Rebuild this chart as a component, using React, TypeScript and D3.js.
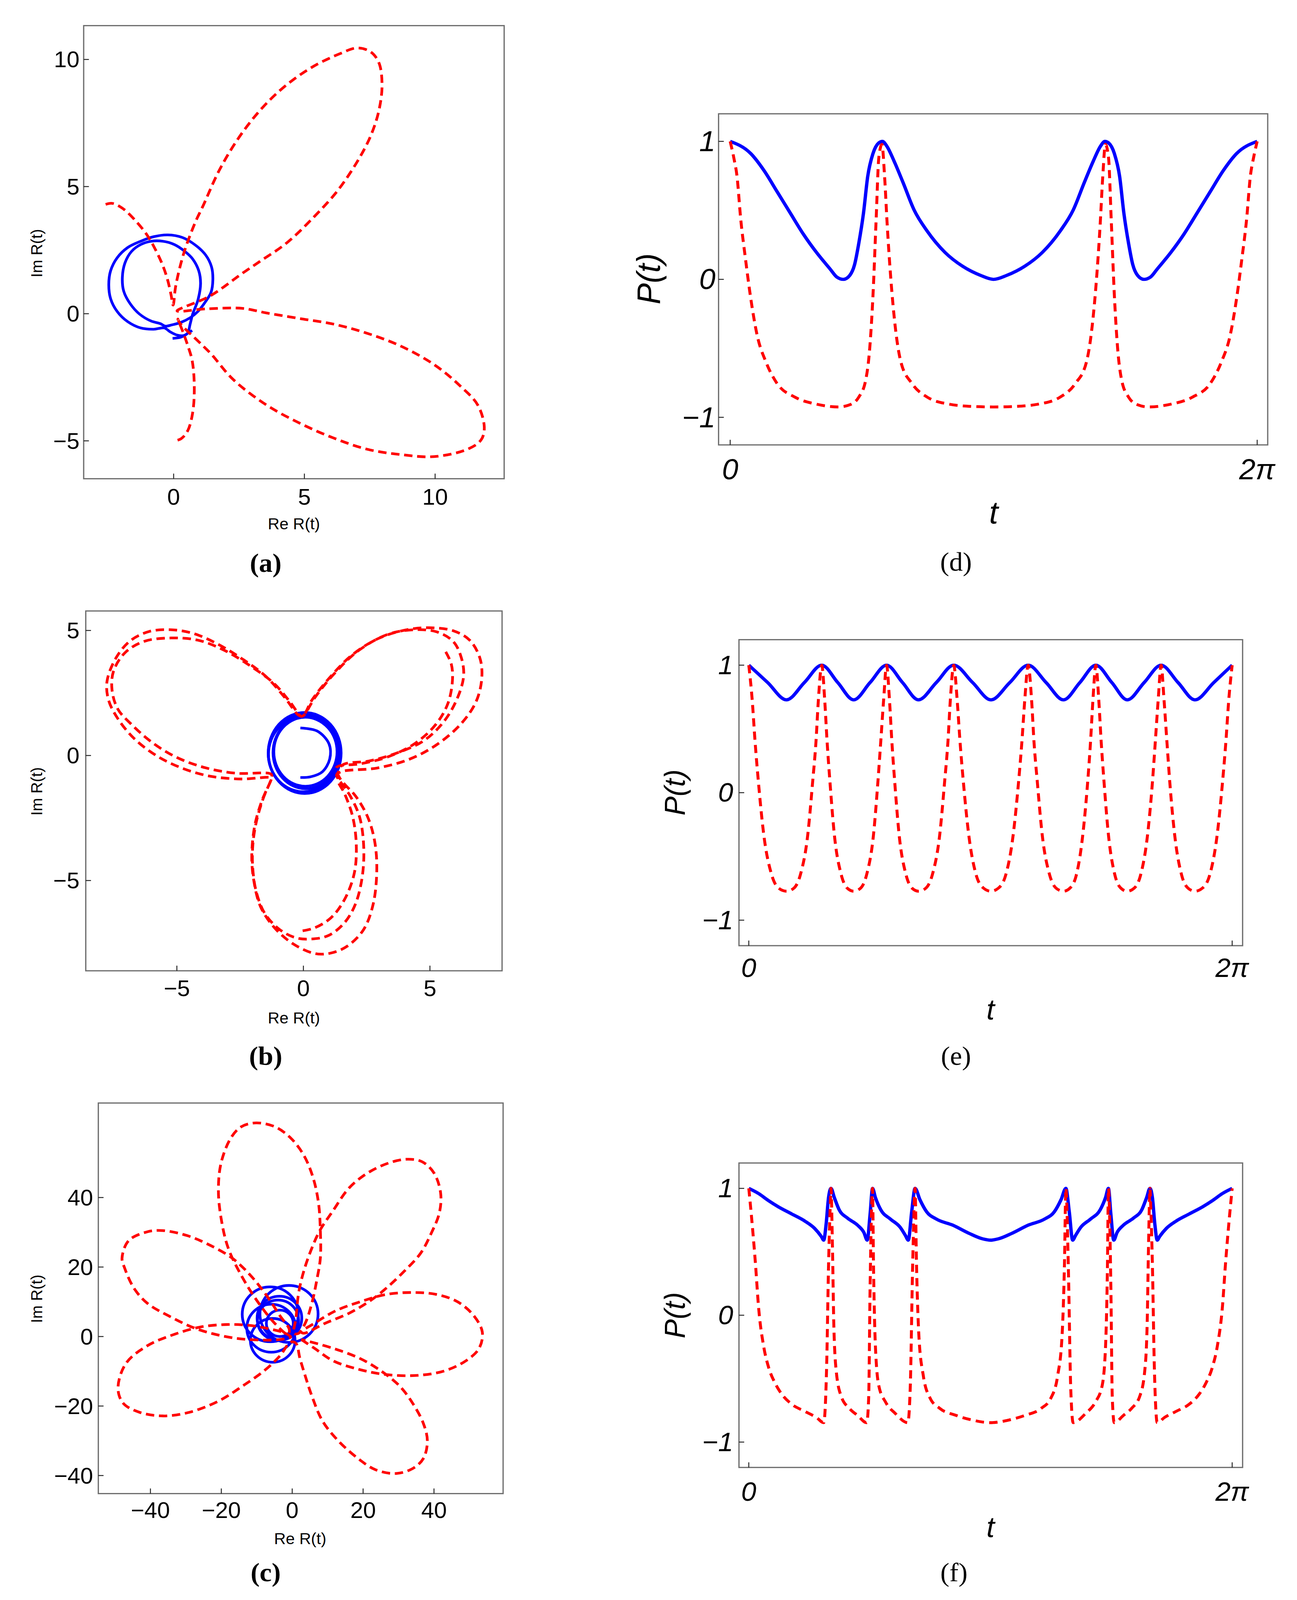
import * as d3 from "d3";
import React from "react";

type Pt = [number, number];
type Box = { l: number; t: number; r: number; b: number };

// ---------- (a) Re/Im R(t) ----------
// red: tail -> upper lobe -> lower lobe -> bottom branch
const aRed: Pt[] = [
  [-2.6, 4.3], [-2.35, 4.34], [-1.96, 4.15], [-1.45, 3.65], [-1.0, 3.07], [-0.68, 2.49],
  [-0.42, 1.91], [-0.23, 1.33], [-0.1, 0.75], [-0.02, 0.34],
  [0.08, 1.09], [0.38, 2.35], [0.83, 3.6], [1.12, 4.23], [1.76, 5.67], [2.53, 6.98],
  [3.42, 8.13], [4.32, 9.0], [5.35, 9.73], [6.37, 10.23], [7.01, 10.45], [7.53, 10.3],
  [7.85, 9.87], [7.97, 9.0], [7.85, 7.99], [7.53, 6.98], [7.01, 5.96], [6.24, 4.8],
  [5.35, 3.79], [4.32, 2.78], [3.29, 2.05], [2.63, 1.59], [1.38, 0.69], [0.13, 0.11],
  [1.23, 0.19], [2.63, 0.21], [3.55, 0.03], [4.83, -0.19], [6.12, -0.41], [7.4, -0.77],
  [8.68, -1.27], [9.96, -2.0], [10.99, -2.87], [11.63, -3.59], [11.88, -4.46], [11.76, -4.96],
  [11.24, -5.33], [9.96, -5.62], [8.68, -5.54], [7.4, -5.33], [6.12, -4.89], [4.83, -4.31],
  [3.55, -3.59], [2.27, -2.58], [1.45, -1.6], [1.08, -1.22], [0.23, -0.36], [0.16, -0.21],
  [0.35, -0.7], [0.53, -1.22], [0.71, -1.85], [0.79, -2.87], [0.73, -3.88], [0.54, -4.6],
  [0.28, -4.92], [0.0, -5.01],
];
const aBlue: Pt[] = [
  [-0.04, -0.97], [0.28, -0.92], [0.53, -0.77], [0.63, -0.41], [0.73, -0.01], [0.93, 0.54],
  [1.03, 1.19], [0.96, 1.69], [0.73, 2.15], [0.43, 2.45], [0.03, 2.72], [-0.41, 2.85],
  [-0.86, 2.85], [-1.26, 2.72], [-1.61, 2.45], [-1.86, 2.0], [-1.96, 1.44], [-1.91, 0.89],
  [-1.66, 0.39], [-1.31, -0.01], [-0.86, -0.29], [-0.51, -0.39], [-0.32, -0.49],
  [-0.07, -0.44], [0.28, -0.34], [0.63, -0.16], [0.93, 0.09], [1.23, 0.49], [1.43, 0.84],
  [1.5, 1.34], [1.45, 1.84], [1.23, 2.3], [0.83, 2.7], [0.33, 3.0], [-0.22, 3.1],
  [-0.76, 3.03], [-1.26, 2.85], [-1.76, 2.6], [-2.16, 2.2], [-2.41, 1.69], [-2.48, 1.14],
  [-2.41, 0.59], [-2.16, 0.09], [-1.76, -0.31], [-1.26, -0.56], [-0.76, -0.61], [-0.36, -0.56],
  [-0.12, -0.72], [0.13, -0.84], [0.38, -0.86], [0.58, -0.74], [0.71, -0.66],
];

// ---------- (b) ----------
const bBottomStart: Pt[] = [
  [-0.03, -7.01], [0.45, -6.89], [1.09, -6.49], [1.63, -5.75], [2.01, -4.71], [2.09, -3.59],
  [1.95, -2.46], [1.63, -1.53], [1.36, -0.97],
];
const bRightMiddle: Pt[] = [
  [1.52, -0.4], [2.6, -0.22], [3.67, 0.09], [4.74, 0.58], [5.49, 1.28], [6.03, 2.17],
  [6.33, 3.16], [6.24, 3.91], [5.92, 4.56], [5.28, 4.94], [4.42, 5.03], [3.35, 4.85],
  [2.17, 4.19], [1.2, 3.25], [0.45, 2.31], [0.02, 1.61],
];
const bLeftInner: Pt[] = [
  [-0.09, 1.57], [-0.52, 2.13], [-1.16, 2.88], [-2.02, 3.53], [-3.09, 4.19], [-4.16, 4.61],
  [-5.24, 4.7], [-6.31, 4.56], [-7.06, 4.1], [-7.51, 3.35], [-7.56, 2.6], [-7.33, 1.85],
  [-6.79, 1.24], [-5.99, 0.53], [-5.02, -0.07], [-3.84, -0.5], [-2.66, -0.71], [-1.27, -0.75],
];
const bBottomMiddle: Pt[] = [
  [-1.27, -0.92], [-1.59, -1.72], [-1.86, -2.65], [-2.0, -3.59], [-2.0, -4.53], [-1.86, -5.46],
  [-1.53, -6.31], [-0.94, -6.96], [-0.3, -7.29], [0.29, -7.34], [0.99, -7.2], [1.63, -6.68],
  [2.06, -5.93], [2.33, -4.81], [2.38, -3.59], [2.22, -2.46], [1.85, -1.62], [1.47, -1.06],
  [1.31, -0.78],
];
const bRightOuter: Pt[] = [
  [1.52, -0.64], [2.92, -0.5], [4.21, -0.14], [5.28, 0.44], [6.24, 1.28], [6.83, 2.17],
  [7.05, 3.11], [6.97, 3.91], [6.57, 4.61], [5.92, 4.99], [4.96, 5.11], [3.99, 5.01],
  [2.92, 4.66], [1.9, 4.0], [0.99, 3.06], [0.34, 2.22], [-0.03, 1.57],
];
const bLeftOuter: Pt[] = [
  [-0.19, 1.61], [-0.73, 2.31], [-1.48, 3.16], [-2.34, 3.81], [-3.41, 4.47], [-4.38, 4.89],
  [-5.24, 5.03], [-6.09, 4.96], [-6.85, 4.58], [-7.4, 3.91], [-7.76, 2.97], [-7.7, 2.22],
  [-7.33, 1.47], [-6.68, 0.67], [-5.77, -0.03], [-4.81, -0.5], [-3.73, -0.82], [-2.45, -0.94],
  [-1.27, -0.89],
];
const bBottomOuter: Pt[] = [
  [-1.27, -0.95], [-1.64, -1.81], [-1.93, -2.84], [-2.04, -4.06], [-1.96, -5.0], [-1.7, -6.03],
  [-1.16, -6.87], [-0.41, -7.53], [0.45, -7.92], [1.09, -7.9], [1.74, -7.62], [2.38, -6.96],
  [2.76, -5.93], [2.9, -4.53], [2.81, -3.4], [2.54, -2.46], [2.06, -1.62], [1.63, -1.15],
  [1.42, -0.87],
];
const bRightInner: Pt[] = [
  [1.31, -0.48], [2.27, -0.33], [3.35, -0.05], [4.42, 0.49], [5.23, 1.24], [5.71, 2.08],
  [5.89, 3.02], [5.84, 3.67], [5.55, 4.28],
];
const bBlueArc: Pt[] = [
  [-0.12, 1.1], [0.54, 0.98], [1.01, 0.47], [1.04, -0.14], [0.75, -0.65], [0.29, -0.85],
  [-0.12, -0.88],
];
// blue loops: centre x, centre y, radius x, radius y
const bBlueRings: [number, number, number, number][] = [
  [0.05, 0.1, 1.44, 1.62],
  [0.1, 0.12, 1.3, 1.45],
  [0.0, 0.05, 1.38, 1.5],
  [0.08, 0.15, 1.25, 1.38],
  [0.03, 0.08, 1.42, 1.55],
];

// ---------- (c) ----------
const cRight: Pt[] = [
  [2.55, -0.86], [6.29, -3.39], [11.54, -6.99], [19.03, -9.51], [26.52, -10.95], [35.51, -11.17],
  [43.0, -9.87], [48.99, -6.99], [52.73, -3.39], [53.63, 1.3], [51.24, 5.98], [46.74, 9.95],
  [40.75, 12.11], [34.01, 12.68], [26.52, 12.11], [19.03, 9.95], [12.28, 7.42], [6.29, 3.82],
  [2.55, 1.3],
];
const cUpperRight: Pt[] = [
  [3.3, 0.94], [9.29, 3.82], [16.03, 6.7], [22.02, 10.31], [26.52, 13.91], [31.76, 18.95],
  [36.25, 24.0], [39.25, 29.77], [41.5, 35.53], [41.87, 41.3], [40.0, 47.06], [36.63, 50.31],
  [32.51, 51.03], [27.27, 49.95], [21.27, 47.06], [16.03, 42.74], [11.54, 36.25], [7.79, 30.49],
  [5.54, 25.44], [3.3, 18.95], [1.8, 12.46], [1.05, 5.26], [0.5, 0.9],
];
const cTop: Pt[] = [
  [1.8, 0.94], [3.67, 3.82], [5.54, 9.59], [7.04, 16.79], [7.94, 22.56], [7.94, 30.49],
  [7.42, 38.41], [5.92, 45.62], [3.3, 52.11], [-0.45, 57.15], [-4.94, 60.4], [-10.19, 61.48],
  [-14.31, 60.4], [-17.3, 57.15], [-20.07, 49.95], [-20.82, 42.02], [-20.07, 34.09],
  [-18.05, 25.44], [-13.93, 16.79], [-9.44, 9.59], [-4.94, 3.82], [-1.2, 0.58],
];
const cUpperLeft: Pt[] = [
  [-0.82, 2.02], [-3.45, 5.98], [-7.19, 11.75], [-11.69, 17.51], [-16.93, 22.56], [-23.67, 26.52],
  [-29.66, 29.05], [-36.4, 30.49], [-40.9, 30.13], [-46.14, 27.6], [-48.01, 22.56], [-47.27, 19.68],
  [-44.64, 13.91], [-40.9, 9.59], [-34.91, 5.98], [-27.42, 2.38], [-19.93, 0.22], [-12.43, -0.86],
  [-3.45, -0.86], [-0.45, -0.14],
];
const cLowerLeft: Pt[] = [
  [-1.95, 0.94], [-7.19, 2.38], [-12.43, 3.24], [-18.43, 3.46], [-25.92, 2.74], [-33.41, 0.58],
  [-40.9, -2.67], [-46.89, -7.71], [-49.14, -14.92], [-47.64, -19.24], [-43.15, -21.77],
  [-36.4, -22.85], [-28.91, -21.77], [-20.67, -18.52], [-13.93, -14.2], [-7.94, -9.87],
  [-3.45, -5.55], [-0.45, -1.59],
];
const cLowerRight: Pt[] = [
  [1.05, -1.95], [2.17, -6.27], [3.67, -11.32], [5.54, -17.08], [8.54, -24.29], [13.03, -30.05],
  [19.03, -35.46], [23.52, -38.34], [29.14, -39.42], [34.01, -37.98], [37.0, -35.1], [38.13, -30.05],
  [37.0, -25.01], [34.01, -19.24], [30.26, -14.2], [25.02, -9.87], [19.03, -6.27], [11.54, -3.39],
  [4.04, -1.23], [2.55, -0.86],
];
// blue loops: centre x, centre y, radius
const cBlueLoops: [number, number, number][] = [
  [-5.5, -1.1, 6.3],
  [-6.2, 6.4, 7.9],
  [-0.9, 6.5, 8.2],
  [-3.6, 5.3, 6.3],
  [-3.5, 3.8, 3.8],
  [-5.9, 2.4, 6.9],
  [-4.0, 4.7, 5.8],
];

// ---------- (d)-(f) P(t), t given in units of 2π ----------
const dBlue: Pt[] = [
  [0, 1], [0.039, 0.912], [0.064, 0.79], [0.089, 0.636], [0.114, 0.481], [0.139, 0.327],
  [0.164, 0.194], [0.19, 0.073], [0.202, 0.018], [0.215, 0], [0.227, 0.029], [0.236, 0.106],
  [0.244, 0.26], [0.253, 0.481], [0.261, 0.746], [0.271, 0.912], [0.282, 0.989], [0.289, 1],
  [0.297, 0.967], [0.311, 0.857], [0.328, 0.702], [0.349, 0.503], [0.374, 0.349], [0.408, 0.194],
  [0.441, 0.095], [0.475, 0.029], [0.5, 0], [0.525, 0.029], [0.559, 0.095], [0.592, 0.194],
  [0.626, 0.349], [0.651, 0.503], [0.672, 0.702], [0.689, 0.857], [0.703, 0.967], [0.711, 1],
  [0.718, 0.989], [0.729, 0.912], [0.739, 0.746], [0.747, 0.481], [0.756, 0.26], [0.764, 0.106],
  [0.773, 0.029], [0.785, 0], [0.798, 0.018], [0.81, 0.073], [0.836, 0.194], [0.861, 0.327],
  [0.886, 0.481], [0.911, 0.636], [0.936, 0.79], [0.961, 0.912], [1, 1],
];
const dRed: Pt[] = [
  [0, 1], [0.007, 0.879], [0.013, 0.746], [0.02, 0.437], [0.029, 0.15], [0.039, -0.137],
  [0.051, -0.402], [0.068, -0.6], [0.089, -0.755], [0.123, -0.854], [0.164, -0.905], [0.206, -0.925],
  [0.227, -0.909], [0.244, -0.854], [0.257, -0.733], [0.265, -0.49], [0.271, -0.115], [0.277, 0.437],
  [0.282, 0.879], [0.288, 0.978], [0.293, 0.746], [0.298, 0.393], [0.305, -0.004], [0.313, -0.336],
  [0.324, -0.6], [0.345, -0.755], [0.374, -0.854], [0.416, -0.905], [0.458, -0.921], [0.5, -0.925],
  [0.542, -0.921], [0.584, -0.905], [0.626, -0.854], [0.655, -0.755], [0.676, -0.6], [0.687, -0.336],
  [0.695, -0.004], [0.702, 0.393], [0.707, 0.746], [0.712, 0.978], [0.718, 0.879], [0.723, 0.437],
  [0.729, -0.115], [0.735, -0.49], [0.743, -0.733], [0.756, -0.854], [0.773, -0.909], [0.794, -0.925],
  [0.836, -0.905], [0.877, -0.854], [0.911, -0.755], [0.932, -0.6], [0.949, -0.402], [0.961, -0.137],
  [0.971, 0.15], [0.98, 0.437], [0.987, 0.746], [0.993, 0.879], [1, 1],
];
const eBlue: Pt[] = [
  [0, 1], [0.039, 0.864], [0.078, 0.728], [0.115, 0.864], [0.151, 1], [0.184, 0.864],
  [0.217, 0.728], [0.251, 0.864], [0.285, 1], [0.318, 0.864], [0.351, 0.728], [0.388, 0.864],
  [0.424, 1], [0.463, 0.864], [0.501, 0.728], [0.54, 0.864], [0.578, 1], [0.615, 0.864],
  [0.651, 0.728], [0.685, 0.864], [0.718, 1], [0.751, 0.864], [0.783, 0.728], [0.818, 0.864],
  [0.853, 1], [0.888, 0.864], [0.923, 0.728], [0.962, 0.864], [1, 1],
];
const eRed: Pt[] = [
  [0, 1], [0.007, 0.73], [0.013, 0.4], [0.02, 0.08], [0.031, -0.33], [0.047, -0.64], [0.062, -0.75], [0.078, -0.773],
  [0.093, -0.75], [0.107, -0.64], [0.122, -0.33], [0.132, 0.08], [0.139, 0.4], [0.144, 0.73], [0.151, 1],
  [0.157, 0.73], [0.162, 0.4], [0.168, 0.08], [0.177, -0.33], [0.191, -0.64], [0.204, -0.75], [0.217, -0.773],
  [0.231, -0.75], [0.244, -0.64], [0.258, -0.33], [0.267, 0.08], [0.273, 0.4], [0.279, 0.73], [0.285, 1],
  [0.291, 0.73], [0.296, 0.4], [0.302, 0.08], [0.311, -0.33], [0.325, -0.64], [0.338, -0.75], [0.351, -0.773],
  [0.366, -0.75], [0.38, -0.64], [0.395, -0.33], [0.405, 0.08], [0.412, 0.4], [0.417, 0.73], [0.424, 1],
  [0.431, 0.73], [0.437, 0.4], [0.444, 0.08], [0.455, -0.33], [0.47, -0.64], [0.486, -0.75], [0.501, -0.773],
  [0.516, -0.75], [0.532, -0.64], [0.547, -0.33], [0.558, 0.08], [0.565, 0.4], [0.571, 0.73], [0.578, 1],
  [0.585, 0.73], [0.59, 0.4], [0.597, 0.08], [0.607, -0.33], [0.622, -0.64], [0.636, -0.75], [0.651, -0.773],
  [0.664, -0.75], [0.678, -0.64], [0.691, -0.33], [0.701, 0.08], [0.707, 0.4], [0.712, 0.73], [0.718, 1],
  [0.724, 0.73], [0.729, 0.4], [0.735, 0.08], [0.744, -0.33], [0.757, -0.64], [0.77, -0.75], [0.783, -0.773],
  [0.797, -0.75], [0.811, -0.64], [0.825, -0.33], [0.835, 0.08], [0.841, 0.4], [0.847, 0.73], [0.853, 1],
  [0.859, 0.73], [0.865, 0.4], [0.871, 0.08], [0.881, -0.33], [0.895, -0.64], [0.909, -0.75], [0.923, -0.773],
  [0.938, -0.75], [0.954, -0.64], [0.969, -0.33], [0.98, 0.08], [0.987, 0.4], [0.993, 0.73], [1, 1],
];
const fBlue: Pt[] = [
  [0, 1], [0.02, 0.96], [0.041, 0.903], [0.061, 0.855], [0.089, 0.798], [0.116, 0.742],
  [0.136, 0.685], [0.15, 0.621], [0.155, 0.592], [0.16, 0.718], [0.165, 0.927], [0.17, 1],
  [0.177, 0.927], [0.187, 0.831], [0.204, 0.766], [0.225, 0.71], [0.238, 0.653], [0.245, 0.592],
  [0.251, 0.798], [0.256, 1], [0.262, 0.927], [0.273, 0.831], [0.293, 0.758], [0.313, 0.694],
  [0.324, 0.629], [0.33, 0.592], [0.337, 0.815], [0.344, 1], [0.354, 0.911], [0.368, 0.815],
  [0.388, 0.758], [0.422, 0.71], [0.456, 0.645], [0.484, 0.602], [0.5, 0.592],
  [0.516, 0.602], [0.544, 0.645], [0.578, 0.71], [0.612, 0.758], [0.632, 0.815], [0.646, 0.911],
  [0.656, 1], [0.663, 0.815], [0.67, 0.592], [0.676, 0.629], [0.687, 0.694], [0.707, 0.758],
  [0.727, 0.831], [0.738, 0.927], [0.744, 1], [0.749, 0.798], [0.755, 0.592], [0.762, 0.653],
  [0.775, 0.71], [0.796, 0.766], [0.813, 0.831], [0.823, 0.927], [0.83, 1], [0.835, 0.927],
  [0.84, 0.718], [0.845, 0.592], [0.85, 0.621], [0.864, 0.685], [0.884, 0.742], [0.911, 0.798],
  [0.939, 0.855], [0.959, 0.903], [0.98, 0.96], [1, 1],
];
const fRed: Pt[] = [
  [0, 1], [0.007, 0.718], [0.014, 0.395], [0.02, 0.073], [0.031, -0.25], [0.041, -0.411],
  [0.055, -0.54], [0.068, -0.621], [0.089, -0.702], [0.116, -0.758], [0.14, -0.806], [0.155, -0.847],
  [0.161, -0.411], [0.165, 0.395], [0.169, 0.911], [0.17, 1], [0.173, 0.556], [0.176, -0.089],
  [0.181, -0.444], [0.191, -0.637], [0.208, -0.734], [0.225, -0.79], [0.244, -0.847], [0.248, -0.653],
  [0.251, 0.234], [0.256, 1], [0.258, 0.395], [0.262, -0.25], [0.269, -0.556], [0.283, -0.685],
  [0.303, -0.774], [0.329, -0.847], [0.334, -0.573], [0.339, 0.395], [0.344, 1], [0.347, 0.395],
  [0.352, -0.169], [0.361, -0.476], [0.375, -0.653], [0.395, -0.734], [0.429, -0.79], [0.463, -0.827],
  [0.5, -0.847],
  [0.537, -0.827], [0.571, -0.79], [0.605, -0.734], [0.625, -0.653], [0.639, -0.476], [0.648, -0.169],
  [0.653, 0.395], [0.656, 1], [0.661, 0.395], [0.666, -0.573], [0.671, -0.847], [0.697, -0.774],
  [0.717, -0.685], [0.731, -0.556], [0.738, -0.25], [0.742, 0.395], [0.744, 1], [0.749, 0.234],
  [0.752, -0.653], [0.756, -0.847], [0.775, -0.79], [0.792, -0.734], [0.809, -0.637], [0.819, -0.444],
  [0.824, -0.089], [0.827, 0.556], [0.83, 1], [0.831, 0.911], [0.835, 0.395], [0.839, -0.411],
  [0.845, -0.847], [0.86, -0.806], [0.884, -0.758], [0.911, -0.702], [0.932, -0.621], [0.945, -0.54],
  [0.959, -0.411], [0.969, -0.25], [0.98, 0.073], [0.986, 0.395], [0.993, 0.718], [1, 1],
];

const pYTicks = [-1, 0, 1];
const pXTicks = [0, 1];
const pXTickLabels = ["0", "2\u03c0"];

const RED = "#ff0000";
const BLUE = "#0000ff";
const FRAME = "#6e6e6e";
const SANS = "'Liberation Sans', Arial, sans-serif";
const SERIF = "'Liberation Serif', 'Times New Roman', serif";
const TICK = 5;

const fmt = (v: number) => (v < 0 ? "\u2212" + Math.abs(v) : String(v));

type OrbitProps = {
  id: string;
  box: Box;
  xDomain: [number, number];
  yDomain: [number, number];
  xTicks: number[];
  yTicks: number[];
  red: Pt[];
  blue: Pt[][];
  rings: [number, number, number, number][];
  xLabelY: number;
  yLabelX: number;
  xTitle: [number, number];
  yTitle: [number, number];
  caption: string;
  capPos: [number, number];
};

function OrbitPanel(p: OrbitProps) {
  const x = d3.scaleLinear().domain(p.xDomain).range([p.box.l, p.box.r]);
  const y = d3.scaleLinear().domain(p.yDomain).range([p.box.b, p.box.t]);
  const line = d3
    .line<Pt>()
    .x((d) => x(d[0]))
    .y((d) => y(d[1]))
    .curve(d3.curveCatmullRom.alpha(0.5));
  const w = p.box.r - p.box.l;
  const h = p.box.b - p.box.t;
  return (
    <g>
      <defs>
        <clipPath id={p.id}>
          <rect x={p.box.l} y={p.box.t} width={w} height={h} />
        </clipPath>
      </defs>
      <g clipPath={`url(#${p.id})`}>
        {p.rings.map(([cx, cy, rx, ry], i) => (
          <ellipse
            key={"r" + i}
            cx={x(cx)}
            cy={y(cy)}
            rx={x(cx + rx) - x(cx)}
            ry={y(cy) - y(cy + ry)}
            fill="none"
            stroke={BLUE}
            strokeWidth={2.6}
          />
        ))}
        {p.blue.map((s, i) => (
          <path key={"b" + i} d={line(s) || ""} fill="none" stroke={BLUE} strokeWidth={2.6} strokeLinejoin="round" />
        ))}
        <path d={line(p.red) || ""} fill="none" stroke={RED} strokeWidth={2.6} strokeDasharray="8 4.5" />
      </g>
      <rect x={p.box.l} y={p.box.t} width={w} height={h} fill="none" stroke={FRAME} strokeWidth={1.2} />
      {p.xTicks.map((v) => (
        <g key={"x" + v}>
          <line x1={x(v)} x2={x(v)} y1={p.box.b} y2={p.box.b - TICK} stroke="#222" strokeWidth={0.9} />
          <text x={x(v)} y={p.xLabelY} textAnchor="middle" dominantBaseline="central" fontFamily={SANS} fontSize={22}>
            {fmt(v)}
          </text>
        </g>
      ))}
      {p.yTicks.map((v) => (
        <g key={"y" + v}>
          <line x1={p.box.l} x2={p.box.l + TICK} y1={y(v)} y2={y(v)} stroke="#222" strokeWidth={0.9} />
          <text x={p.yLabelX} y={y(v)} textAnchor="end" dominantBaseline="central" fontFamily={SANS} fontSize={22}>
            {fmt(v)}
          </text>
        </g>
      ))}
      <text x={p.xTitle[0]} y={p.xTitle[1]} textAnchor="middle" dominantBaseline="central" fontFamily={SANS} fontSize={15.5}>
        Re R(t)
      </text>
      <text
        transform={`translate(${p.yTitle[0]},${p.yTitle[1]}) rotate(-90)`}
        textAnchor="middle"
        dominantBaseline="central"
        fontFamily={SANS}
        fontSize={15.5}
      >
        Im R(t)
      </text>
      <text x={p.capPos[0]} y={p.capPos[1]} textAnchor="middle" dominantBaseline="central" fontFamily={SERIF} fontWeight="bold" fontSize={26}>
        {p.caption}
      </text>
    </g>
  );
}

type PProps = {
  box: Box;
  xDomain: [number, number];
  blue: Pt[];
  red: Pt[];
  tickSize: number;
  titleSize: number;
  xLabelY: number;
  yLabelX: number;
  tPos: [number, number];
  pPos: [number, number];
  caption: string;
  capPos: [number, number];
};

function PPanel(p: PProps) {
  const x = d3.scaleLinear().domain(p.xDomain).range([p.box.l, p.box.r]);
  const y = d3.scaleLinear().domain([-1.2, 1.2]).range([p.box.b, p.box.t]);
  const line = d3
    .line<Pt>()
    .x((d) => x(d[0]))
    .y((d) => y(d[1]))
    .curve(d3.curveMonotoneX);
  const w = p.box.r - p.box.l;
  const h = p.box.b - p.box.t;
  return (
    <g>
      <path d={line(p.blue) || ""} fill="none" stroke={BLUE} strokeWidth={3.2} strokeLinejoin="round" />
      <path d={line(p.red) || ""} fill="none" stroke={RED} strokeWidth={2.8} strokeDasharray="8 5" />
      <rect x={p.box.l} y={p.box.t} width={w} height={h} fill="none" stroke={FRAME} strokeWidth={1.2} />
      {pXTicks.map((v, i) => (
        <g key={"x" + v}>
          <line x1={x(v)} x2={x(v)} y1={p.box.b} y2={p.box.b - TICK} stroke="#222" strokeWidth={0.9} />
          <text x={x(v)} y={p.xLabelY} textAnchor="middle" dominantBaseline="central" fontFamily={SANS} fontStyle="italic" fontSize={p.tickSize}>
            {pXTickLabels[i]}
          </text>
        </g>
      ))}
      {pYTicks.map((v) => (
        <g key={"y" + v}>
          <line x1={p.box.l} x2={p.box.l + TICK} y1={y(v)} y2={y(v)} stroke="#222" strokeWidth={0.9} />
          <text x={p.yLabelX} y={y(v)} textAnchor="end" dominantBaseline="central" fontFamily={SANS} fontStyle="italic" fontSize={p.tickSize}>
            {fmt(v)}
          </text>
        </g>
      ))}
      <text x={p.tPos[0]} y={p.tPos[1]} textAnchor="middle" dominantBaseline="central" fontFamily={SANS} fontStyle="italic" fontSize={p.titleSize}>
        t
      </text>
      <text
        transform={`translate(${p.pPos[0]},${p.pPos[1]}) rotate(-90)`}
        textAnchor="middle"
        dominantBaseline="central"
        fontFamily={SANS}
        fontStyle="italic"
        fontSize={p.titleSize}
      >
        P(t)
      </text>
      <text x={p.capPos[0]} y={p.capPos[1]} textAnchor="middle" dominantBaseline="central" fontFamily={SERIF} fontSize={26}>
        {p.caption}
      </text>
    </g>
  );
}

export default function App() {
  const bRed = [
    ...bBottomStart, ...bRightMiddle, ...bLeftInner, ...bBottomMiddle,
    ...bRightOuter, ...bLeftOuter, ...bBottomOuter, ...bRightInner,
  ];
  const cRed = [...cRight, ...cUpperRight, ...cTop, ...cUpperLeft, ...cLowerLeft, ...cLowerRight];
  const cRings = cBlueLoops.map(([cx, cy, r]) => [cx, cy, r, r] as [number, number, number, number]);
  return (
    <svg
      width="100vw"
      height="100vh"
      viewBox="0 0 1240 1560.8"
      preserveAspectRatio="none"
      style={{ position: "absolute", left: 0, top: 0, background: "#fff", display: "block" }}
    >
      <rect x={0} y={0} width={1240} height={1560.8} fill="#fff" />
      <OrbitPanel
        id="clipA"
        box={{ l: 80, t: 25, r: 482, b: 467 }}
        xDomain={[-3.44, 12.64]}
        yDomain={[-6.49, 11.33]}
        xTicks={[0, 5, 10]}
        yTicks={[-5, 0, 5, 10]}
        red={aRed}
        blue={[aBlue]}
        rings={[]}
        xLabelY={484.5}
        yLabelX={76}
        xTitle={[281, 511]}
        yTitle={[35, 247]}
        caption="(a)"
        capPos={[254, 549]}
      />
      <OrbitPanel
        id="clipB"
        box={{ l: 82, t: 596, r: 480, b: 947 }}
        xDomain={[-8.6, 7.85]}
        yDomain={[-8.61, 5.78]}
        xTicks={[-5, 0, 5]}
        yTicks={[-5, 0, 5]}
        red={bRed}
        blue={[bBlueArc]}
        rings={bBlueRings}
        xLabelY={964}
        yLabelX={76}
        xTitle={[281, 993]}
        yTitle={[35, 772]}
        caption="(b)"
        capPos={[254, 1030]}
      />
      <OrbitPanel
        id="clipC"
        box={{ l: 94, t: 1076, r: 481, b: 1457 }}
        xDomain={[-54.7, 59.5]}
        yDomain={[-45.2, 67.2]}
        xTicks={[-40, -20, 0, 20, 40]}
        yTicks={[-40, -20, 0, 20, 40]}
        red={cRed}
        blue={[]}
        rings={cRings}
        xLabelY={1473}
        yLabelX={89}
        xTitle={[287, 1501]}
        yTitle={[35, 1267]}
        caption="(c)"
        capPos={[254, 1534]}
      />
      <PPanel
        box={{ l: 687, t: 111, r: 1212, b: 434 }}
        xDomain={[-0.022, 1.02]}
        blue={dBlue}
        red={dRed}
        tickSize={28}
        titleSize={31}
        xLabelY={458}
        yLabelX={684}
        tPos={[950, 500]}
        pPos={[620, 272]}
        caption="(d)"
        capPos={[914, 548]}
      />
      <PPanel
        box={{ l: 706.5, t: 624, r: 1188, b: 922.5 }}
        xDomain={[-0.0203, 1.0216]}
        blue={eBlue}
        red={eRed}
        tickSize={26}
        titleSize={28}
        xLabelY={944}
        yLabelX={701}
        tPos={[947, 985]}
        pPos={[645, 773]}
        caption="(e)"
        capPos={[914, 1030]}
      />
      <PPanel
        box={{ l: 706.5, t: 1134.5, r: 1188, b: 1431.5 }}
        xDomain={[-0.0203, 1.0216]}
        blue={fBlue}
        red={fRed}
        tickSize={26}
        titleSize={28}
        xLabelY={1455}
        yLabelX={701}
        tPos={[947, 1490]}
        pPos={[645, 1283]}
        caption="(f)"
        capPos={[912, 1534]}
      />
    </svg>
  );
}
